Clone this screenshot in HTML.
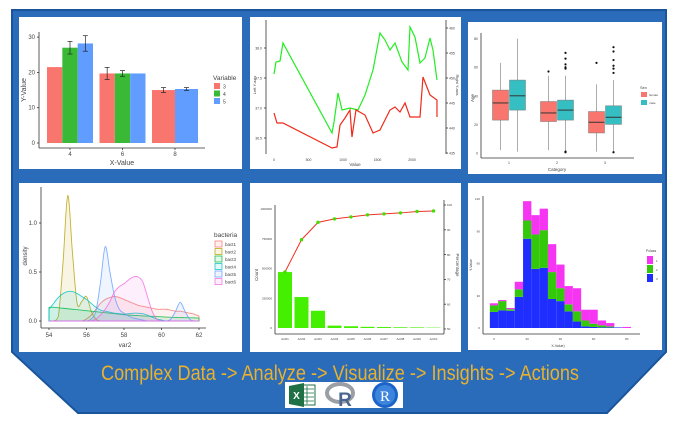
<!DOCTYPE html>
<html><head><meta charset="utf-8"><style>
html,body{margin:0;padding:0;background:#fff;width:680px;height:424px;overflow:hidden}
svg{display:block;font-family:"Liberation Sans",sans-serif}
</style></head><body>
<svg id="s" width="680" height="424" viewBox="0 0 680 424">
<polygon points="12,10 666,10 666,352 607,413 78,413 12,352" fill="#2a6bba" stroke="#1a559c" stroke-width="2"/>
<rect x="19" y="17" width="223" height="152" fill="#fff"/>
<rect x="250" y="17" width="211" height="152" fill="#fff"/>
<rect x="468" y="22" width="194" height="152" fill="#fff"/>
<rect x="19" y="183" width="223" height="169" fill="#fff"/>
<rect x="250" y="183" width="211" height="169" fill="#fff"/>
<rect x="468" y="183" width="194" height="167" fill="#fff"/>
<text x="340" y="380" text-anchor="middle" font-family="'Liberation Sans Narrow','Liberation Sans',sans-serif" font-size="21" fill="#eab12c" textLength="478" lengthAdjust="spacingAndGlyphs">Complex Data -&gt; Analyze -&gt; Visualize -&gt; Insights -&gt; Actions</text>
<rect x="285" y="382" width="118" height="26" fill="#fff"/>
<g>
<rect x="299" y="385" width="16" height="20" fill="#fff" stroke="#1e7145" stroke-width="1"/>
<path d="M302,389H314M302,393H314M302,397H314M302,401H314M307,386V404" stroke="#1e7145" stroke-width="0.8"/>
<polygon points="289,386 304,383 304,407 289,404" fill="#1e7145"/>
<text x="296.5" y="399" text-anchor="middle" font-size="10" font-weight="bold" fill="#fff">X</text>
</g>
<g>
<ellipse cx="340" cy="393" rx="13" ry="9" fill="none" stroke="#9a9ea5" stroke-width="4"/>
<text x="345" y="406" text-anchor="middle" font-size="19" font-weight="bold" fill="#4a6590">R</text>
</g>
<g>
<circle cx="385" cy="395" r="13" fill="#1c64c8"/>
<circle cx="385" cy="395" r="10" fill="#3d84dd"/>
<text x="385" y="401" text-anchor="middle" font-family="'Liberation Serif',serif" font-size="15" fill="#fff">R</text>
</g>
<g id="charts"></g>
</svg>
<script>
// ---------- Panel 1 data ----------
const p1Groups = ['4','6','8'];
const p1Var3 = [21.5, 19.7, 15];
const p1Var4 = [27, 19.7, null];
const p1Var5 = [28.2, 19.7, 15.3];
const p1Err3 = [null, 1.7, 0.7];
const p1Err4 = [1.8, 0.8, null];
const p1Err5 = [2.2, null, 0.4];
const p1Ticks = [0, 10, 20, 30];
// ---------- Panel 2 data ----------
const p2GreenX = [0,29,87,130,841,870,928,986,1101,1217,1319,1435,1536,1609,1681,1754,1855,1942,1971,2043,2116,2188,2261,2304,2362];
const p2GreenY = [450.8,453.2,453.4,457,439,441.2,447,443.6,444,443.6,446.6,451.6,459,457.6,455.6,457,453.2,451.6,460.2,458.2,453,454,458,455.6,449.6];
const p2RedX = [0,43,130,841,913,957,1029,1101,1130,1188,1319,1435,1536,1681,1754,1826,1899,1971,2116,2159,2261,2362,2362];
const p2RedY = [443,441,441,436,436.2,440.6,442,443.6,438.2,443.6,442.6,439,439.6,443.6,444.2,443.2,445,442.2,442.2,450.2,446.6,445.6,442.2];
const p2XTicks = [0,500,1000,1500,2000];
const p2RightTicks = [435,440,445,450,455,460];
const p2LeftTicks = ['36.5','37.0','37.5','38.0'];
// ---------- Panel 3 data ----------
const p3Cats = ['1','2','3'];
const p3FemaleStats = [[2,23,35,44,63],[2,22,28,36,54],[1,14,21.5,29,48]];
const p3MaleStats = [[1,30,40,51,80],[1,23,30,37,54],[1,20,25,33,51]];
const p3FemaleOut = [[],[57],[63]];
const p3MaleOut = [[],[59,60,62,66,70,1,0.5],[56,59,61,65,71,74,0.5]];
const p3Ticks = [0,20,40,60,80];
// ---------- Panel 4 data ----------
const p4Names = ['bact1','bact2','bact3','bact4','bact5','bact6'];
const p4Bact1 = [0,0,0,0,0,0,0,0,0.02,0.06,0.12,0.18,0.22,0.24,0.25,0.24,0.22,0.2,0.18,0.16,0.15,0.14,0.13,0.12,0.12,0.12,0.11,0.1,0.1,0.09,0.08,0.07,0.05];
const p4Bact2 = [0,0,0.05,0.6,1.28,0.7,0.18,0.2,0.25,0.1,0.02,0,0,0,0,0,0,0,0,0,0,0,0,0,0,0,0,0,0,0,0,0,0];
const p4Bact3 = [0.14,0.14,0.135,0.13,0.125,0.12,0.115,0.11,0.105,0.1,0.095,0.09,0.085,0.08,0.075,0.07,0.065,0.06,0.058,0.055,0.052,0.05,0.048,0.045,0.043,0.04,0.038,0.036,0.035,0.034,0.033,0.032,0.03];
const p4Bact4 = [0.12,0.18,0.24,0.28,0.3,0.3,0.28,0.25,0.22,0.18,0.14,0.11,0.1,0.09,0.08,0.075,0.07,0.075,0.08,0.08,0.075,0.06,0.04,0.02,0.01,0,0,0,0,0,0,0,0];
const p4Bact5 = [0,0,0,0,0,0,0,0,0,0.02,0.1,0.4,0.76,0.5,0.25,0.12,0.08,0.05,0.03,0.02,0.01,0,0,0,0,0,0.02,0.1,0.19,0.1,0.02,0,0];
const p4Bact6 = [0,0,0,0,0,0,0,0,0,0,0.02,0.06,0.12,0.2,0.3,0.35,0.38,0.42,0.45,0.45,0.4,0.25,0.1,0.02,0,0,0,0,0,0,0,0,0];
const p4XTicks = [54,56,58,60,62];
const p4YTicks = [0,0.5,1.0];
// ---------- Panel 5 data ----------
const p5Acts = ['Act01','Act02','Act03','Act04','Act05','Act06','Act07','Act08','Act09','Act10'];
const p5Counts = [470000,260000,145000,20000,15000,10000,8000,6000,5000,3000];
const p5CumPct = [73,86,93,94.4,95.2,96,96.4,96.8,97.4,97.6];
const p5CountTicks = [0,250000,500000,750000,1000000];
const p5PctTicks = [50,60,70,80,90,100];
// ---------- Panel 6 data ----------
const p6Bins = [0,5,10,15,20,25,30,35,40,45,50,55,60,65,70,75,80];
const p6Class3 = [15,16.4,16,29,83,55,56,27,25,15.5,6,1.5,1,0.6,0.6,0.5,0];
const p6Class2 = [6,8.6,1.4,7,17,32,35,25,12,6.5,9.5,5.5,3,1.9,0.9,0,0];
const p6Class1 = [2,1,1.2,7,18,18,20,26,22,17,21.5,10,13,4.5,3.1,0,1];
const p6XTicks = [0,20,40,60,80];
const p6YTicks = [0,30,60,90,120];

const NS = 'http://www.w3.org/2000/svg';
const root = document.getElementById('charts');
function mk(tag, attrs, name, parent) {
  const el = document.createElementNS(NS, tag);
  for (const k in attrs) el.setAttribute(k, attrs[k]);
  
  
  (parent || root).appendChild(el);
  return el;
}
function txt(x, y, s, size, name, extra) {
  const t = mk('text', Object.assign({x: x, y: y, 'font-size': size, fill: '#444'}, extra || {}), name);
  t.textContent = s;
  return t;
}
function line(x1, y1, x2, y2, name, col, w) {
  return mk('line', {x1: x1, y1: y1, x2: x2, y2: y2, stroke: col || '#333', 'stroke-width': w || 0.8}, name);
}

// ===== Panel 1: grouped bar =====
(function () {
  const y = v => 143 - v * 3.53;
  const gx = i => 70 + i * 52.5;
  const cols = ['#f8766d', '#39b936', '#619cff'];
  const series = [p1Var3, p1Var4, p1Var5];
  const errs = [p1Err3, p1Err4, p1Err5];
  line(39, 32, 39, 148, 'p1-y-axis');
  line(39, 148, 205, 148, 'p1-x-axis');
  p1Ticks.forEach(t => {
    line(37, y(t), 39, y(t), 'p1-y-tick');
    txt(35, y(t) + 2, String(t), 6, 'p1-y-tick-label', {'text-anchor': 'end'});
  });
  p1Groups.forEach((g, i) => {
    const present = [0, 1, 2].filter(s => series[s][i] != null);
    const w = 46 / present.length;
    present.forEach((s, j) => {
      const v = series[s][i];
      const x0 = gx(i) - 23 + w * j;
      mk('rect', {x: x0, y: y(v), width: w, height: y(0) - y(v), fill: cols[s]}, 'p1-bar');
      const e = errs[s][i];
      if (e != null) {
        const cx = x0 + w / 2;
        line(cx, y(v + e), cx, y(v - e), 'p1-error-bar', '#222', 0.7);
        line(cx - 2.5, y(v + e), cx + 2.5, y(v + e), 'p1-error-cap', '#222', 0.7);
        line(cx - 2.5, y(v - e), cx + 2.5, y(v - e), 'p1-error-cap', '#222', 0.7);
      }
    });
    line(gx(i), 148, gx(i), 150, 'p1-x-tick');
    txt(gx(i), 156, g, 6, 'p1-x-tick-label', {'text-anchor': 'middle'});
  });
  txt(122, 165, 'X-Value', 7, 'p1-x-axis-title', {'text-anchor': 'middle'});
  txt(0, 0, 'Y-Value', 7, 'p1-y-axis-title', {'text-anchor': 'middle', transform: 'translate(26,90) rotate(-90)'});
  txt(213, 80, 'Variable', 6.5, 'p1-legend-title');
  ['3', '4', '5'].forEach((n, i) => {
    mk('rect', {x: 214, y: 83 + i * 7.5, width: 6, height: 6, fill: cols[i]}, 'p1-legend-key');
    txt(223, 88.5 + i * 7.5, n, 5, 'p1-legend-label');
  });
})();

// ===== Panel 2: dual-axis lines =====
(function () {
  const x = v => 274 + v * 0.069;
  const y = v => 153 - (v - 435) * 5;
  line(266, 20, 266, 154, 'p2-left-axis');
  line(446, 20, 446, 154, 'p2-right-axis');
  p2XTicks.forEach(t => {
    txt(x(t), 161, String(t), 3.5, 'p2-x-tick-label', {'text-anchor': 'middle'});
  });
  p2RightTicks.forEach(t => {
    line(446, y(t), 448, y(t), 'p2-right-tick');
    txt(449, y(t) + 1.5, String(t), 3.5, 'p2-right-tick-label');
  });
  p2LeftTicks.forEach((t, i) => {
    const py = 138 - i * 30;
    line(264, py, 266, py, 'p2-left-tick');
    txt(262, py + 1.5, t, 3.5, 'p2-left-tick-label', {'text-anchor': 'end'});
  });
  const gp = p2GreenX.map((v, i) => x(v) + ',' + y(p2GreenY[i])).join(' ');
  mk('polyline', {points: gp, fill: 'none', stroke: '#22ee22', 'stroke-width': 1.2}, 'p2-green-line');
  const rp = p2RedX.map((v, i) => x(v) + ',' + y(p2RedY[i])).join(' ');
  mk('polyline', {points: rp, fill: 'none', stroke: '#ee2a1a', 'stroke-width': 1.2}, 'p2-red-line');
  txt(355, 166, 'Value', 4.5, 'p2-x-axis-title', {'text-anchor': 'middle'});
  txt(0, 0, 'Left Y-axis', 4, 'p2-left-axis-title', {'text-anchor': 'middle', transform: 'translate(256,85) rotate(-90)'});
  txt(0, 0, 'Right Y-axis', 4, 'p2-right-axis-title', {'text-anchor': 'middle', transform: 'translate(456,85) rotate(90)'});
})();

// ===== Panel 3: boxplot =====
(function () {
  const y = v => 153 - v * 1.43;
  const cx = i => 509 + i * 48;
  line(481, 33, 481, 158, 'p3-y-axis');
  line(481, 158, 634, 158, 'p3-x-axis');
  p3Ticks.forEach(t => {
    txt(478, y(t) + 1.5, String(t), 3.5, 'p3-y-tick-label', {'text-anchor': 'end'});
  });
  function box(center, st, col, outs) {
    line(center, y(st[0]), center, y(st[4]), 'p3-whisker', '#888', 0.7);
    mk('rect', {x: center - 8, y: y(st[3]), width: 16, height: y(st[1]) - y(st[3]), fill: col, stroke: '#777', 'stroke-width': 0.5}, 'p3-box');
    line(center - 8, y(st[2]), center + 8, y(st[2]), 'p3-median', '#333', 1);
    outs.forEach(o => mk('circle', {cx: center, cy: y(o), r: 1.1, fill: '#111'}, 'p3-outlier'));
  }
  p3Cats.forEach((c, i) => {
    box(cx(i) - 8.5, p3FemaleStats[i], '#f8766d', p3FemaleOut[i]);
    box(cx(i) + 8.5, p3MaleStats[i], '#35bfc2', p3MaleOut[i]);
    txt(cx(i), 164, c, 3.5, 'p3-x-tick-label', {'text-anchor': 'middle'});
  });
  txt(557, 171, 'Category', 4.5, 'p3-x-axis-title', {'text-anchor': 'middle'});
  txt(0, 0, 'Age', 4.5, 'p3-y-axis-title', {'text-anchor': 'middle', transform: 'translate(474,98) rotate(-90)'});
  txt(640, 89, 'Sex', 4, 'p3-legend-title');
  mk('rect', {x: 641, y: 92, width: 6, height: 5, fill: '#f8766d'}, 'p3-legend-key');
  txt(649, 96, 'female', 3, 'p3-legend-label');
  mk('rect', {x: 641, y: 100, width: 6, height: 5, fill: '#35bfc2'}, 'p3-legend-key');
  txt(649, 104, 'male', 3, 'p3-legend-label');
})();

// ===== Panel 4: density =====
(function () {
  const x = v => 49 + (v - 54) * 18.75;
  const y = v => 321 - v * 98;
  line(41, 187, 41, 328, 'p4-y-axis');
  line(41, 328, 206, 328, 'p4-x-axis');
  p4XTicks.forEach(t => {
    line(x(t), 328, x(t), 330, 'p4-x-tick');
    txt(x(t), 337, String(t), 6, 'p4-x-tick-label', {'text-anchor': 'middle'});
  });
  p4YTicks.forEach(t => {
    line(39, y(t), 41, y(t), 'p4-y-tick');
    txt(37, y(t) + 2, t.toFixed(1), 6, 'p4-y-tick-label', {'text-anchor': 'end'});
  });
  const cols = ['#f8766d', '#b79f00', '#00ba38', '#00bfc4', '#619cff', '#f564e3'];
  const data = [p4Bact1, p4Bact2, p4Bact3, p4Bact4, p4Bact5, p4Bact6];
  data.forEach((arr, s) => {
    const pts = arr.map((v, i) => [x(54 + i * 0.25), y(v)]);
    let d = 'M' + pts[0][0] + ',' + y(0) + 'L' + pts[0][0] + ',' + pts[0][1];
    for (let i = 0; i < pts.length - 1; i++) {
      const p0 = pts[Math.max(0, i - 1)], p1 = pts[i], p2 = pts[i + 1], p3 = pts[Math.min(pts.length - 1, i + 2)];
      const c1 = [p1[0] + (p2[0] - p0[0]) / 6, p1[1] + (p2[1] - p0[1]) / 6];
      const c2 = [p2[0] - (p3[0] - p1[0]) / 6, p2[1] - (p3[1] - p1[1]) / 6];
      d += 'C' + c1[0] + ',' + Math.min(c1[1], y(0)) + ' ' + c2[0] + ',' + Math.min(c2[1], y(0)) + ' ' + p2[0] + ',' + p2[1];
    }
    d += 'L' + pts[pts.length - 1][0] + ',' + y(0) + 'Z';
    mk('path', {d: d, fill: cols[s], 'fill-opacity': 0.1, stroke: cols[s], 'stroke-width': 0.9, 'stroke-opacity': 0.8}, 'p4-density-' + p4Names[s]);
  });
  txt(125, 347, 'var2', 6.5, 'p4-x-axis-title', {'text-anchor': 'middle'});
  txt(0, 0, 'density', 6, 'p4-y-axis-title', {'text-anchor': 'middle', transform: 'translate(27,256) rotate(-90)'});
  txt(214, 237, 'bacteria', 6.5, 'p4-legend-title');
  p4Names.forEach((n, i) => {
    mk('rect', {x: 215, y: 241 + i * 7.5, width: 7, height: 6, fill: cols[i], 'fill-opacity': 0.1, stroke: cols[i], 'stroke-width': 0.7}, 'p4-legend-key');
    txt(225, 246 + i * 7.5, n, 4.5, 'p4-legend-label');
  });
})();

// ===== Panel 5: pareto =====
(function () {
  const x = i => 285 + i * 16.5;
  const yc = v => 328 - v / 1000000 * 119;
  const yp = v => 329 - (v - 50) * 2.48;
  line(275, 205, 275, 334, 'p5-left-axis');
  line(444, 200, 444, 334, 'p5-right-axis');
  line(275, 334, 444, 334, 'p5-x-axis');
  p5CountTicks.forEach(t => {
    txt(272, yc(t) + 1.2, String(t), 3, 'p5-count-tick-label', {'text-anchor': 'end'});
  });
  p5PctTicks.forEach(t => {
    line(444, yp(t), 446, yp(t), 'p5-pct-tick');
    txt(447, yp(t) + 1.2, String(t), 3, 'p5-pct-tick-label');
  });
  p5Acts.forEach((a, i) => {
    mk('rect', {x: x(i) - 7, y: yc(p5Counts[i]), width: 14, height: 328 - yc(p5Counts[i]), fill: '#44f000'}, 'p5-bar');
    txt(x(i), 340, a, 3, 'p5-x-tick-label', {'text-anchor': 'middle'});
  });
  const pts = p5Acts.map((a, i) => x(i) + ',' + yp(p5CumPct[i])).join(' ');
  mk('polyline', {points: pts, fill: 'none', stroke: '#ee3322', 'stroke-width': 1}, 'p5-cumulative-line');
  p5Acts.forEach((a, i) => {
    mk('circle', {cx: x(i), cy: yp(p5CumPct[i]), r: 1.7, fill: '#44dd00'}, 'p5-cumulative-point');
  });
  txt(0, 0, 'Count', 4.5, 'p5-left-axis-title', {'text-anchor': 'middle', transform: 'translate(258,275) rotate(-90)'});
  txt(0, 0, 'Percentage', 4.5, 'p5-right-axis-title', {'text-anchor': 'middle', transform: 'translate(456,265) rotate(90)'});
})();

// ===== Panel 6: stacked histogram =====
(function () {
  const x = v => 494 + v * 1.66;
  const y = v => 328 - v * 1.075;
  line(483, 196, 483, 334, 'p6-y-axis');
  line(483, 334, 640, 334, 'p6-x-axis');
  p6YTicks.forEach(t => {
    txt(480, y(t) + 1.2, String(t), 3, 'p6-y-tick-label', {'text-anchor': 'end'});
  });
  p6XTicks.forEach(t => {
    txt(x(t), 340, String(t), 3, 'p6-x-tick-label', {'text-anchor': 'middle'});
  });
  p6Bins.forEach((b, i) => {
    const x0 = x(b - 2.5), w = 1.66 * 5;
    const a = p6Class3[i], bb = p6Class2[i], c = p6Class1[i];
    if (a > 0) mk('rect', {x: x0, y: y(a), width: w, height: y(0) - y(a), fill: '#1f2dff'}, 'p6-bar-class3');
    if (bb > 0) mk('rect', {x: x0, y: y(a + bb), width: w, height: y(a) - y(a + bb), fill: '#33c80a'}, 'p6-bar-class2');
    if (c > 0) mk('rect', {x: x0, y: y(a + bb + c), width: w, height: y(a + bb) - y(a + bb + c), fill: '#f535f2'}, 'p6-bar-class1');
  });
  txt(558, 347, 'X-Value)', 3.5, 'p6-x-axis-title', {'text-anchor': 'middle'});
  txt(0, 0, 'Y-Value', 3.5, 'p6-y-axis-title', {'text-anchor': 'middle', transform: 'translate(472,265) rotate(-90)'});
  txt(646, 252, 'Pclass', 3.5, 'p6-legend-title');
  const lc = ['#f535f2', '#33c80a', '#1f2dff'];
  ['1', '2', '3'].forEach((n, i) => {
    mk('rect', {x: 647, y: 256 + i * 9, width: 6, height: 8, fill: lc[i]}, 'p6-legend-key');
    txt(656, 262 + i * 9, n, 3, 'p6-legend-label');
  });
})();
</script>
</body></html>
